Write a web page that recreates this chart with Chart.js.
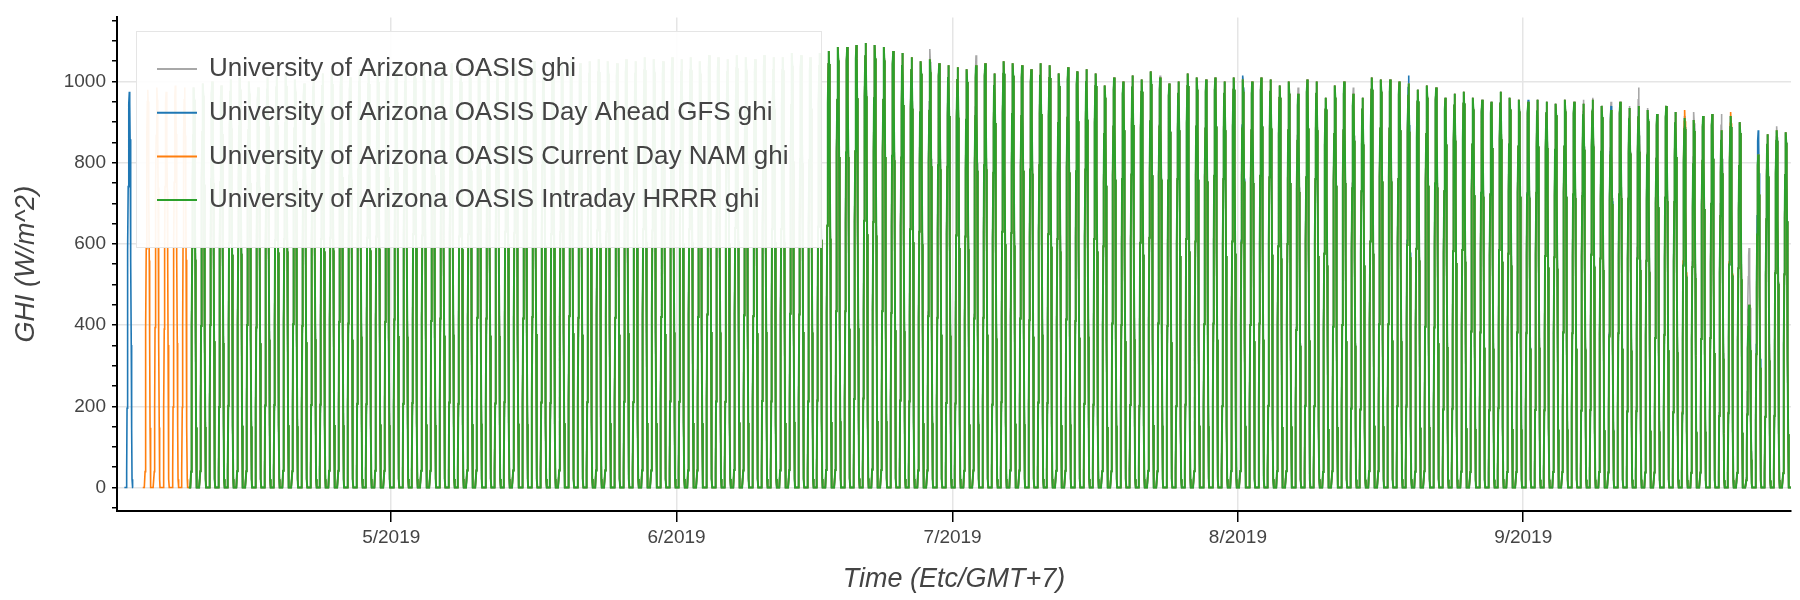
<!DOCTYPE html>
<html>
<head>
<meta charset="utf-8">
<script src="https://cdn.jsdelivr.net/npm/chart.js@4"></script>
<style>
  body { margin: 0; background: #fff; }
</style>
</head>
<body>
<canvas id="ghiChart" width="1800" height="600"></canvas>
<script>
// days counted from 2019-04-01 00:00 (Etc/GMT+7)
const monthTicks = [30, 61, 91, 122, 153];
const monthLabels = ['5/2019', '6/2019', '7/2019', '8/2019', '9/2019'];
const seriesNames = [
  'University of Arizona OASIS ghi',
  'University of Arizona OASIS Day Ahead GFS ghi',
  'University of Arizona OASIS Current Day NAM ghi',
  'University of Arizona OASIS Intraday HRRR ghi'
];
const seriesColors = ['#a8a8a8', '#1f77b4', '#ff7f0e', '#2ca02c'];

// fraction of daily peak for each local hour 0..23
const hourShape = [0,0,0,0,0,0,0.04,0.2,0.4,0.6,0.76,0.88,0.97,1,0.97,0.88,0.75,0.57,0.36,0.15,0.02,0,0,0];

// daily peak ghi, Apr 1 .. Sep 30
const hrrrPeak = [null,null,null,null,null,null,null,null,
  985,995,1000,990,1005,1010,1000,985,1010,1015,1020,1005,995,1015,1020,1025,1020,1010,1030,1025,1030,1020,
  1035,1030,1040,1035,1025,1040,1045,1030,1040,1045,1040,1035,1050,1045,1040,1050,1045,1040,1050,1055,1045,1050,1055,1050,1045,1055,1050,1060,1055,1050,1060,
  1055,1060,1050,1065,1060,1055,1065,1060,1055,1065,1060,1060,1070,1065,1060,1070,1075,1085,1085,1090,1095,1090,1085,1075,1070,1060,1050,1055,1045,1040,
  1035,1030,1040,1045,1020,1050,1045,1040,1030,1045,1040,1020,1035,1025,1030,1020,990,1010,1000,1015,1005,1025,1010,995,1000,1020,1010,1005,1010,1000,1010,
  1005,1000,1010,1005,990,1000,970,1005,1000,960,990,1000,970,960,1010,1005,1005,1000,995,980,990,985,960,970,975,960,955,950,975,960,955,
  950,955,950,945,955,950,945,955,940,930,950,935,940,930,920,940,925,910,905,915,920,880,915,900,450,820,870,880,875,880];
const obsPeak = [null,null,null,null,null,null,null,null,
  985,995,1000,990,1005,1010,1000,985,1010,1015,1020,1005,995,1015,1020,1025,1020,1010,1030,1025,1030,1020,
  1035,1030,1040,1035,1025,1040,1045,1030,1040,1045,1040,1035,1050,1045,1040,1050,1045,1040,1050,1055,1045,1050,1055,1050,1045,1055,1050,1060,1055,1050,1060,
  1055,1060,1050,1065,1060,1055,1065,1060,1055,1065,1060,1060,1070,1065,1060,1070,1075,1085,1085,1090,1095,1090,1085,1075,1070,1060,1050,1080,1045,1040,
  1035,1030,1065,1045,1020,1050,1045,1040,1030,1045,1040,1020,1035,1025,1030,1020,990,1010,1000,1015,1005,1025,1015,995,1000,1020,1010,1005,1010,1000,1010,
  1010,1000,1010,1005,990,1000,985,1005,1000,960,990,1000,985,960,1010,1005,1005,1000,995,980,990,985,960,970,975,960,955,950,975,960,955,
  950,955,950,945,955,950,955,960,940,950,950,940,985,935,920,940,925,910,925,915,920,920,915,900,590,820,870,890,875,880];
const gfsPeak = [null,975,null,null,null,null,null,null,
  985,995,1000,990,1005,1010,1000,985,1010,1015,1020,1005,995,1015,1020,1025,1020,1010,1030,1025,1030,1020,
  1035,1030,1040,1035,1025,1040,1045,1030,1040,1045,1040,1035,1050,1045,1040,1050,1045,1040,1050,1055,1045,1050,1055,1050,1045,1055,1050,1060,1055,1050,1060,
  1055,1060,1050,1065,1060,1055,1065,1060,1055,1065,1060,1060,1070,1065,1060,1070,1075,1085,1085,1090,1095,1090,1085,1075,1070,1060,1050,1055,1045,1040,
  1035,1030,1040,1045,1020,1050,1045,1040,1030,1045,1040,1020,1035,1025,1030,1020,990,1010,1000,1015,1005,1025,1010,995,1000,1020,1010,1005,1010,1000,1010,
  1015,1000,1010,1005,990,1000,970,1005,1000,960,990,1000,970,960,1010,1005,1005,1000,1015,980,990,985,960,970,975,960,955,950,975,960,955,
  955,955,950,945,955,950,945,955,940,940,950,935,940,930,920,940,925,915,905,915,920,880,915,900,450,880,870,880,875,880];
const namPeak = [null,null,null,980,985,975,990,985,
  985,995,1000,990,1005,1010,1000,985,1010,1015,1020,1005,995,1015,1020,1025,1020,1010,1030,1025,1030,1020,
  1035,1030,1040,1035,1025,1040,1045,1030,1040,1045,1040,1035,1050,1045,1040,1050,1045,1040,1050,1055,1045,1050,1055,1050,1045,1055,1050,1060,1055,1050,1060,
  1055,1060,1050,1065,1060,1055,1065,1060,1055,1065,1060,1060,1070,1065,1060,1070,1075,1085,1085,1090,1095,1090,1085,1075,1070,1060,1050,1055,1045,1040,
  1035,1030,1040,1045,1020,1050,1045,1040,1030,1045,1040,1020,1035,1025,1030,1020,990,1010,1000,1015,1005,1025,1010,995,1000,1020,1010,1005,1010,1000,1010,
  1005,1000,1010,1005,990,1000,970,1005,1000,960,990,1000,970,960,1010,1005,1005,1000,995,980,990,985,960,970,975,960,955,950,975,960,955,
  950,955,950,945,955,950,945,955,940,930,950,935,940,930,920,940,925,930,905,915,920,880,925,900,450,820,870,880,875,880];

function hourly(peaks) {
  const pts = [];
  peaks.forEach((p, d) => {
    hourShape.forEach((f, h) => {
      pts.push({ x: d + h / 24, y: p === null ? null : Math.round(p * f) });
    });
  });
  return pts;
}

const peakSets = [obsPeak, gfsPeak, namPeak, hrrrPeak];
const drawOrder = [3, 2, 1, 0];
const fontFam = '"Liberation Sans", Arial, sans-serif';

const legendBox = {
  id: 'legendBox',
  afterDatasetsDraw(chart) {
    const c = chart.ctx;
    c.save();
    c.fillStyle = 'rgba(255,255,255,0.93)';
    c.fillRect(136, 31, 685, 216);
    c.strokeStyle = '#e5e5e5';
    c.lineWidth = 1;
    c.strokeRect(136.5, 31.5, 685, 216);
    c.font = '26px ' + fontFam;
    c.textBaseline = 'middle';
    seriesNames.forEach((name, i) => {
      const y = 69 + i * 43.7;
      c.strokeStyle = seriesColors[i];
      c.lineWidth = 2;
      c.beginPath(); c.moveTo(157, y); c.lineTo(197, y); c.stroke();
      c.fillStyle = '#444';
      c.fillText(name, 209, y);
    });
    c.restore();
  }
};

new Chart(document.getElementById('ghiChart'), {
  type: 'line',
  data: {
    datasets: peakSets.map((p, i) => ({
      label: seriesNames[i],
      data: hourly(p),
      borderColor: seriesColors[i],
      borderWidth: i === 3 ? 2 : 1.6,
      pointRadius: 0,
      spanGaps: false,
      order: drawOrder[i]
    }))
  },
  options: {
    responsive: false,
    animation: false,
    parsing: false,
    normalized: true,
    layout: { padding: { top: 12, right: 9, left: 6, bottom: 0 } },
    plugins: { legend: { display: false }, tooltip: { enabled: false } },
    scales: {
      x: {
        type: 'linear', min: 0.2, max: 182.1,
        afterBuildTicks: s => { s.ticks = monthTicks.map(v => ({ value: v })); },
        afterFit: s => { s.height = 89; },
        ticks: {
          callback: (v) => monthLabels[monthTicks.indexOf(v)],
          font: { size: 19, family: fontFam },
          color: '#444', padding: 4, maxRotation: 0
        },
        grid: { color: '#e5e5e5', tickColor: '#000', tickLength: 11, lineWidth: 1.5 },
        border: { color: '#000', width: 2 },
        title: {
          display: true, text: 'Time (Etc/GMT+7)', color: '#444',
          font: { size: 27, style: 'italic', family: fontFam }
        }
      },
      y: {
        min: -58, max: 1158,
        afterBuildTicks: s => {
          const t = [];
          for (let v = -50; v <= 1150; v += 50) t.push({ value: v });
          s.ticks = t;
        },
        afterFit: s => { s.width = 111; },
        ticks: {
          autoSkip: false,
          callback: v => (v % 200 === 0 ? String(v) : ''),
          font: { size: 19, family: fontFam },
          color: '#444', padding: 6
        },
        grid: {
          color: c => (c.tick && c.tick.value % 200 === 0 ? '#e5e5e5' : 'rgba(0,0,0,0)'),
          tickColor: '#000',
          tickLength: c => (c.tick && c.tick.value % 200 === 0 ? 9 : 5),
          lineWidth: 1.5
        },
        border: { color: '#000', width: 2 },
        title: {
          display: true, text: 'GHI (W/m^2)', color: '#444',
          font: { size: 27, style: 'italic', family: fontFam }
        }
      }
    }
  },
  plugins: [legendBox]
});
</script>
</body>
</html>
